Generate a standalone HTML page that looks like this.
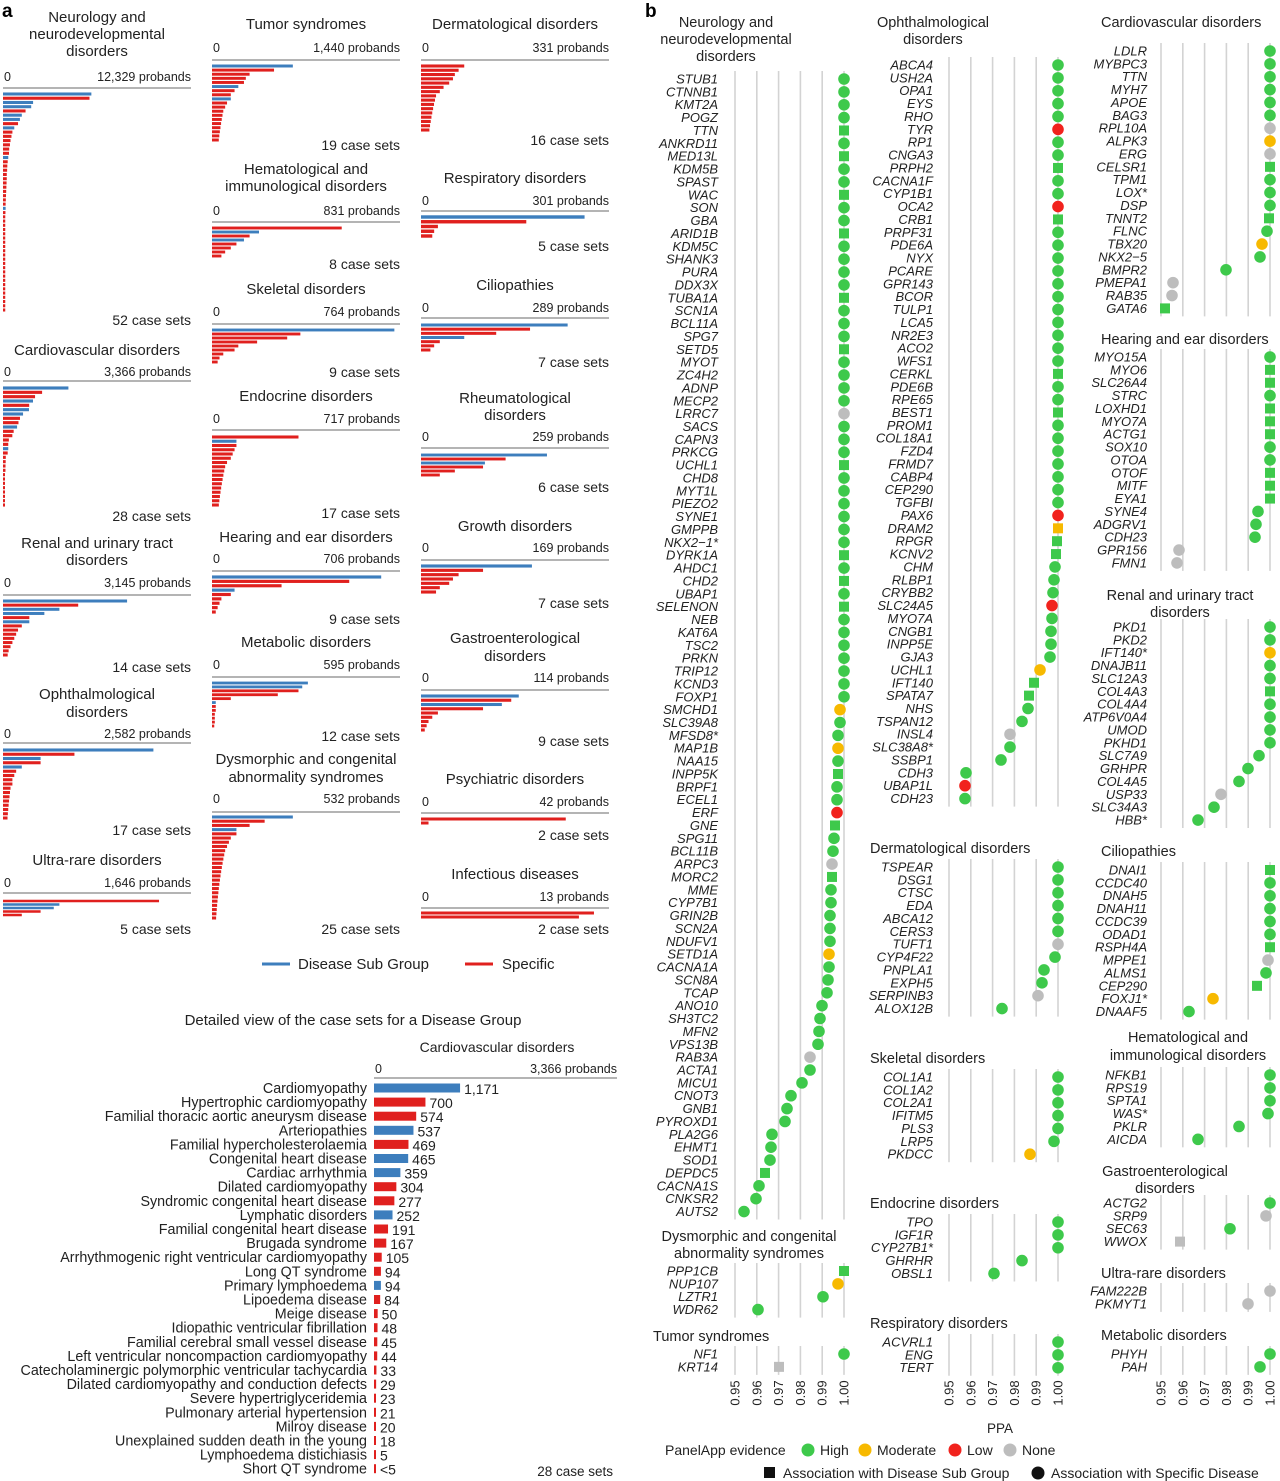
<!DOCTYPE html>
<html><head><meta charset="utf-8">
<style>
html,body{margin:0;padding:0;background:#fff;}
svg{display:block;font-family:"Liberation Sans","DejaVu Sans",sans-serif;}
</style></head><body>
<svg id="s" width="1280" height="1481" viewBox="0 0 1280 1481" xmlns="http://www.w3.org/2000/svg">
<text x="2" y="17" font-size="19" font-weight="bold">a</text>
<text x="645" y="17" font-size="19" font-weight="bold">b</text>
</svg>
<script>
var S=document.getElementById('s'),NS='http://www.w3.org/2000/svg';
function el(t,a,txt){var e=document.createElementNS(NS,t);for(var k in a)e.setAttribute(k,a[k]);if(txt!=null)e.textContent=txt;S.appendChild(e);return e;}
function tx(x,y,s,o){o=o||{};var a={x:x,y:y,'font-size':o.fs||14,fill:o.fill||'#222'};if(o.a)a['text-anchor']=o.a;if(o.it)a['font-style']='italic';if(o.tr)a.transform=o.tr;return el('text',a,s);}
var BL='#3d7ebd',RD='#e0201e';
function grp(x,title,ty,n,lly,ly,bs,be,bars,cnt,fy){
 var w=188;
 title.forEach(function(t,i){tx(x+w/2,ty[i],t,{a:'middle',fs:15});});
 tx(x+1,lly,'0',{fs:12.5});
 tx(x+w,lly,n+' probands',{fs:12.5,a:'end'});
 el('line',{x1:x,y1:ly,x2:x+w,y2:ly,stroke:'#888','stroke-width':1.2});
 var sp=cnt>1?(be-bs)/(cnt-1):0; if(sp>7)sp=7;
 var h=Math.min(3.6,sp*0.72); if(cnt<=2)h=3;
 var vals=bars.slice();var last=vals.length?vals[vals.length-1][1]:0.05;
 while(vals.length<cnt){last=Math.max(0.012,last*0.93);vals.push(['r',last]);}
 vals.forEach(function(v,i){el('rect',{x:x,y:bs+i*sp-h/2,width:Math.max(2,v[1]*w),height:h,fill:v[0]=='b'?BL:RD});});
 tx(x+w,fy,cnt+' case sets',{fs:14,a:'end'});
}
function P(s){return s.split(' ').map(function(t){return [t[0],parseFloat(t.slice(1))];});}
var X1=3,X2=212,X3=421;
grp(X1,['Neurology and','neurodevelopmental','disorders'],[22,39,56],'12,329',81,88,94,310,P('b.47 r.46 b.16 b.15 r.12 b.1 b.09 r.08 b.06 r.05 r.045 r.04 r.037 r.033 r.032 b.028 r.025 r.023 r.022 r.02 r.02 r.019 r.018 r.017 r.016 r.015 r.014 b.014'),52,325);
var cv=[1171,700,574,537,469,465,359,304,277,252,191,167,105,94,94,84,50,48,45,44,33,29,23,21,20,18,5,5],cvc='brrbrbbrrbrrrrbrrrrrrrrrrrrr';
grp(X1,['Cardiovascular disorders'],[355],'3,366',376,381,388,505,cv.map(function(v,i){return [cvc[i],v/3366];}),28,521);
grp(X1,['Renal and urinary tract','disorders'],[548,565],'3,145',587,595,601,655,P('b.66 r.4 b.3 b.22 r.14 b.14 r.1 r.08 r.07 r.06 r.05 r.04 r.03 r.025'),14,672);
grp(X1,['Ophthalmological','disorders'],[699,717],'2,582',738,743,750,818,P('b.8 r.38 b.2 r.2 b.1 r.07 r.06 r.05 r.05 r.04'),17,835);
grp(X1,['Ultra-rare disorders'],[865],'1,646',887,893,901,915,P('r.83 b.3 b.27 r.2 r.1'),5,934);
grp(X2,['Tumor syndromes'],[29],'1,440',52,60,66,140,P('b.43 r.33 r.2 r.18 r.17 b.14 r.12 r.1 b.1 r.08 r.07 r.06'),19,150);
grp(X2,['Hematological and','immunological disorders'],[174,191],'831',215,222,228,256,P('r.69 b.25 r.2 b.17 r.13 r.1 r.07 r.05'),8,269);
grp(X2,['Skeletal disorders'],[294],'764',316,324,330,362,P('b.97 r.47 r.4 r.24 r.14 r.12 r.06 r.04 r.03'),9,377);
grp(X2,['Endocrine disorders'],[401],'717',423,430,437,505,P('r.46 b.13 r.13 r.12 r.11 r.1 r.08 r.07'),17,518);
grp(X2,['Hearing and ear disorders'],[542],'706',563,571,577,612,P('b.9 r.73 r.37 b.12 r.1 r.05 r.04 r.03 r.02'),9,624);
grp(X2,['Metabolic disorders'],[647],'595',669,677,683,726,P('b.51 b.48 r.46 r.35 r.1 b.02 r.02 r.02 r.015 r.015 r.015 r.012'),12,741);
grp(X2,['Dysmorphic and congenital','abnormality syndromes'],[764,782],'532',803,812,817,918,P('b.43 r.28 r.2 b.13 r.13 r.1 r.09 r.08 r.07'),25,934);
grp(X3,['Dermatological disorders'],[29],'331',52,60,66,130,P('r.23 r.2 r.18 r.17 r.15 r.12 r.1 r.08'),16,145);
grp(X3,['Respiratory disorders'],[183],'301',205,211,217,236,P('b.87 r.56 r.09 r.07 r.06'),5,251);
grp(X3,['Ciliopathies'],[290],'289',312,318,325,350,P('b.78 r.58 r.4 b.23 r.1 r.07 r.05'),7,367);
grp(X3,['Rheumatological','disorders'],[403,420],'259',441,448,455,475,P('b.67 r.45 b.34 r.33 r.18 r.1'),6,492);
grp(X3,['Growth disorders'],[531],'169',552,560,566,592,P('b.59 r.33 r.2 r.17 r.15 r.1 r.08'),7,608);
grp(X3,['Gastroenterological','disorders'],[643,661],'114',682,690,696,730,P('b.52 r.48 b.43 r.33 r.09 r.06 r.04 r.03 r.02'),9,746);
grp(X3,['Psychiatric disorders'],[784],'42',806,813,819,823,P('r.77 r.04'),2,840);
grp(X3,['Infectious diseases'],[879],'13',901,908,913,917,P('r.92 r.84'),2,934);
el('line',{x1:262,y1:964,x2:290,y2:964,stroke:BL,'stroke-width':3});tx(298,969,'Disease Sub Group',{fs:15});
el('line',{x1:465,y1:964,x2:493,y2:964,stroke:RD,'stroke-width':3});tx(502,969,'Specific',{fs:15});
tx(353,1025,'Detailed view of the case sets for a Disease Group',{fs:15,a:'middle'});
tx(497,1052,'Cardiovascular disorders',{fs:14,a:'middle'});
tx(375,1073,'0',{fs:12.5});tx(617,1073,'3,366 probands',{fs:12.5,a:'end'});
el('line',{x1:374,y1:1078,x2:617,y2:1078,stroke:'#888','stroke-width':1.2});
var cvn=['Cardiomyopathy','Hypertrophic cardiomyopathy','Familial thoracic aortic aneurysm disease','Arteriopathies','Familial hypercholesterolaemia','Congenital heart disease','Cardiac arrhythmia','Dilated cardiomyopathy','Syndromic congenital heart disease','Lymphatic disorders','Familial congenital heart disease','Brugada syndrome','Arrhythmogenic right ventricular cardiomyopathy','Long QT syndrome','Primary lymphoedema','Lipoedema disease','Meige disease','Idiopathic ventricular fibrillation','Familial cerebral small vessel disease','Left ventricular noncompaction cardiomyopathy','Catecholaminergic polymorphic ventricular tachycardia','Dilated cardiomyopathy and conduction defects','Severe hypertriglyceridemia','Pulmonary arterial hypertension','Milroy disease','Unexplained sudden death in the young','Lymphoedema distichiasis','Short QT syndrome'];
var cvl=['1,171','700','574','537','469','465','359','304','277','252','191','167','105','94','94','84','50','48','45','44','33','29','23','21','20','18','5','<5'];
cvn.forEach(function(n,i){var y=1088+i*14.1,w=Math.max(2,cv[i]*0.0735);
 tx(367,y+5,n,{fs:14.3,a:'end'});
 el('rect',{x:374,y:y-4.5,width:w,height:9,fill:cvc[i]=='b'?BL:RD});
 tx(374+w+4,y+6,cvl[i],{fs:14});});
tx(613,1476,'28 case sets',{fs:13.5,a:'end'});
var COL={g:'#3ec94b',y:'#f7b900',r:'#f1221d',n:'#bdbdbd'};
var C1=844,C2=1058,C3=1270,ST=21.8;
function sec(R,lr,title,ty,y0,list,tcx){
 var sp=12.87;
 if(title.length==1) tx(tcx[0],ty[0],title[0],{fs:14.5});
 else title.forEach(function(t,i){tx(tcx[1],ty[i],t,{fs:14.5,a:'middle'});});
 var n=list.length,yt=y0-8,yb=y0+(n-1)*sp+8;
 for(var k=0;k<6;k++){var gx=R-k*ST;el('line',{x1:gx,y1:yt,x2:gx,y2:yb,stroke:'#d3d3d3','stroke-width':1.6});}
 list.forEach(function(it,i){var p=it.split(','),y=y0+i*sp;
  tx(lr,y+4.5,p[0],{fs:13,a:'end',it:1});
  var dx=parseFloat(p[1]||0),cs=p[2]||'g',cx=R-dx,c=COL[cs[0]];
  if(cs[1]=='s')el('rect',{x:cx-5,y:y-5,width:10,height:10,fill:c});
  else el('circle',{cx:cx,cy:y,r:5.8,fill:c});});
}
function L(s){return s.split(' ');}
var T1=[653,726],T2=[870,933],T3=[1101,1180];
sec(C1,718,['Neurology and','neurodevelopmental','disorders'],[27,44,61],79,L('STUB1 CTNNB1 KMT2A POGZ TTN,0,gs ANKRD11 MED13L,0,gs KDM5B SPAST WAC,0,gs SON GBA ARID1B,0,gs KDM5C SHANK3 PURA DDX3X TUBA1A,0,gs SCN1A BCL11A SPG7 SETD5,0,gs MYOT ZC4H2 ADNP MECP2 LRRC7,0,n SACS CAPN3 PRKCG UCHL1,0,gs CHD8 MYT1L PIEZO2 SYNE1 GMPPB NKX2−1* DYRK1A,0,gs AHDC1 CHD2,0,gs UBAP1 SELENON,0,gs NEB KAT6A TSC2 PRKN TRIP12 KCND3 FOXP1 SMCHD1,4,y SLC39A8,4 MFSD8*,6 MAP1B,6,y NAA15,6 INPP5K,6,gs BRPF1,7 ECEL1,7 ERF,7,r GNE,9,gs SPG11,10 BCL11B,11 ARPC3,12,n MORC2,12,gs MME,13 CYP7B1,13 GRIN2B,14 SCN2A,14 NDUFV1,14 SETD1A,15,y CACNA1A,15 SCN8A,16 TCAP,17 ANO10,22 SH3TC2,24 MFN2,25 VPS13B,26 RAB3A,34,n ACTA1,34 MICU1,42 CNOT3,53 GNB1,57 PYROXD1,59 PLA2G6,72 EHMT1,73 SOD1,74 DEPDC5,79,gs CACNA1S,85 CNKSR2,88 AUTS2,100'),T1);
sec(C1,718,['Dysmorphic and congenital','abnormality syndromes'],[1241,1258],1271,L('PPP1CB,0,gs NUP107,6,y LZTR1,21 WDR62,86'),[653,749]);
sec(C1,718,['Tumor syndromes'],[1341],1354,L('NF1,0 KRT14,65,ns'),T1);
sec(C2,933,['Ophthalmological','disorders'],[27,44],65,L('ABCA4 USH2A OPA1 EYS RHO TYR,0,r RP1 CNGA3 PRPH2,0,gs CACNA1F CYP1B1 OCA2,0,r CRB1,0,gs PRPF31 PDE6A NYX PCARE GPR143 BCOR TULP1 LCA5 NR2E3 ACO2 WFS1 CERKL,0,gs PDE6B RPE65 BEST1,0,gs PROM1 COL18A1 FZD4 FRMD7 CABP4 CEP290 TGFBI PAX6,0,r DRAM2,0,ys RPGR,1,gs KCNV2,2,gs CHM,3 RLBP1,4 CRYBB2,5 SLC24A5,6,r MYO7A,6 CNGB1,7 INPP5E,7 GJA3,8 UCHL1,18,y IFT140,24,gs SPATA7,29,gs NHS,30 TSPAN12,36 INSL4,48,n SLC38A8*,48 SSBP1,57 CDH3,92 UBAP1L,93,r CDH23,93'),T2);
sec(C2,933,['Dermatological disorders'],[853],867,L('TSPEAR DSG1 CTSC EDA ABCA12 CERS3 TUFT1,0,n CYP4F22,3 PNPLA1,14 EXPH5,16 SERPINB3,20,n ALOX12B,56'),T2);
sec(C2,933,['Skeletal disorders'],[1063],1077,L('COL1A1 COL1A2 COL2A1 IFITM5 PLS3 LRP5,4 PKDCC,28,y'),T2);
sec(C2,933,['Endocrine disorders'],[1208],1222,L('TPO IGF1R CYP27B1* GHRHR,36 OBSL1,64'),T2);
sec(C2,933,['Respiratory disorders'],[1328],1342,L('ACVRL1 ENG TERT'),T2);
sec(C3,1147,['Cardiovascular disorders'],[27],51,L('LDLR MYBPC3 TTN MYH7 APOE BAG3 RPL10A,0,n ALPK3,0,y ERG,0,n CELSR1,0,gs TPM1 LOX* DSP TNNT2,1,gs FLNC,3 TBX20,8,y NKX2−5,10 BMPR2,44 PMEPA1,97,n RAB35,98,n GATA6,105,gs'),T3);
sec(C3,1147,['Hearing and ear disorders'],[344],357,L('MYO15A MYO6,0,gs SLC26A4,0,gs STRC LOXHD1,0,gs MYO7A,0,gs ACTG1,0,gs SOX10 OTOA OTOF,0,gs MITF,0,gs EYA1,0,gs SYNE4,12 ADGRV1,14 CDH23,15 GPR156,91,n FMN1,93,n'),T3);
sec(C3,1147,['Renal and urinary tract','disorders'],[600,617],627,L('PKD1 PKD2 IFT140*,0,y DNAJB11 SLC12A3 COL4A3,0,gs COL4A4 ATP6V0A4 UMOD PKHD1 SLC7A9,11 GRHPR,22 COL4A5,31 USP33,49,n SLC34A3,56 HBB*,72'),T3);
sec(C3,1147,['Ciliopathies'],[856],870,L('DNAI1,0,gs CCDC40 DNAH5 DNAH11 CCDC39 ODAD1 RSPH4A,0,gs MPPE1,2,n ALMS1,4 CEP290,13,gs FOXJ1*,57,y DNAAF5,81'),T3);
sec(C3,1147,['Hematological and','immunological disorders'],[1042,1060],1075,L('NFKB1 RPS19 SPTA1 WAS*,2 PKLR,31 AICDA,72'),[1101,1188]);
sec(C3,1147,['Gastroenterological','disorders'],[1176,1193],1203,L('ACTG2 SRP9,4,n SEC63,40 WWOX,90,ns'),[1101,1165]);
sec(C3,1147,['Ultra-rare disorders'],[1278],1291,L('FAM222B,0,n PKMYT1,22,n'),T3);
sec(C3,1147,['Metabolic disorders'],[1340],1354,L('PHYH PAH,10'),T3);
[C1,C2,C3].forEach(function(R){var t=['1.00','0.99','0.98','0.97','0.96','0.95'];
 for(var k=0;k<6;k++){var gx=R-k*ST+4.5;tx(gx,1393,t[k],{fs:13,a:'middle',tr:'rotate(-90 '+gx+' 1393)'});}});
tx(1000,1433,'PPA',{fs:13.5,a:'middle'});
tx(665,1455,'PanelApp evidence',{fs:14});
[[808,'g','High'],[865,'y','Moderate'],[955,'r','Low'],[1010,'n','None']].forEach(function(a){el('circle',{cx:a[0],cy:1450,r:6.5,fill:COL[a[1]]});tx(a[0]+12,1455,a[2],{fs:14});});
el('rect',{x:764,y:1467,width:11,height:11,fill:'#111'});tx(783,1478,'Association with Disease Sub Group',{fs:14});
el('circle',{cx:1038,cy:1473,r:6.5,fill:'#111'});tx(1051,1478,'Association with Specific Disease',{fs:14});
</script>
</body></html>
